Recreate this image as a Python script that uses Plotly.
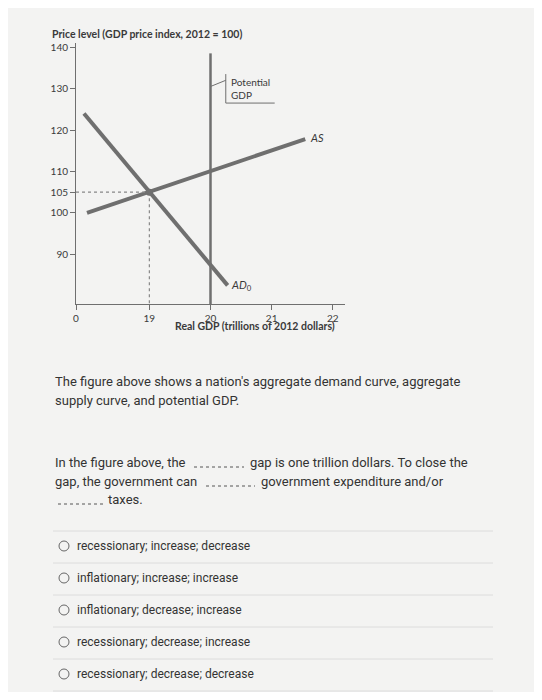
import plotly.graph_objects as go

# curves
as_x = [17.98, 21.55]
as_y = [100, 117.8]
ad_x = [17.93, 20.28]
ad_y = [124, 82.5]
pot_x = [20, 20]
pot_y = [78, 138.5]
eq_x, eq_y = 19, 105

y_ticks = [90, 100, 105, 110, 120, 130, 140]
x_ticks = [17.8, 19, 20, 21, 22]
x_tick_labels = ["0", "19", "20", "21", "22"]

options = [
    "recessionary; increase; decrease",
    "inflationary; increase; increase",
    "inflationary; decrease; increase",
    "recessionary; decrease; increase",
    "recessionary; decrease; decrease",
]

W, H = 542, 700
L, R, T, B = 68, 337, 35, 296
LINE = "#6f6f6f"
TXT = "#3a3a3a"
BODY_FONT = "Roboto"


def px(x):
    return (x - L) / (R - L)


def py(y):
    return (B - y) / (B - T)


fig = go.Figure()
fig.add_trace(go.Scatter(x=as_x, y=as_y, mode="lines", line=dict(color=LINE, width=4)))
fig.add_trace(go.Scatter(x=ad_x, y=ad_y, mode="lines", line=dict(color=LINE, width=4)))
fig.add_trace(go.Scatter(x=pot_x, y=pot_y, mode="lines", line=dict(color=LINE, width=2.5)))
fig.add_trace(go.Scatter(x=[17.8, eq_x], y=[eq_y, eq_y], mode="lines",
                         line=dict(color="#888", width=1.2, dash="dot")))
fig.add_trace(go.Scatter(x=[eq_x, eq_x], y=[eq_y, 78], mode="lines",
                         line=dict(color="#888", width=1.2, dash="dot")))
fig.add_trace(go.Scatter(x=[eq_x], y=[eq_y], mode="markers",
                         marker=dict(color=LINE, size=7)))

# potential GDP label bracket
fig.add_shape(type="line", x0=20, y0=130.5, x1=20.25, y1=132, line=dict(color=LINE, width=1))
fig.add_shape(type="line", x0=20.25, y0=133.5, x1=20.25, y1=126.5, line=dict(color=LINE, width=1))
fig.add_shape(type="line", x0=20.25, y0=126.5, x1=21.05, y1=126.5, line=dict(color=LINE, width=1))

chart_font = dict(family="Lato", color=TXT)
ann = [
    dict(x=20.3, y=130, text="Potential<br>GDP", xanchor="left", yanchor="middle",
         align="left", font=dict(size=10, **chart_font)),
    dict(x=21.6, y=118.3, text="<i>AS</i>", xanchor="left", font=dict(size=11, **chart_font)),
    dict(x=20.3, y=82.5, text="<i>AD</i><sub>0</sub>", xanchor="left", font=dict(size=11, **chart_font)),
    dict(x=px(42), y=py(18), text="<b>Price level (GDP price index, 2012 = 100)</b>",
         xref="paper", yref="paper", xanchor="left", font=dict(size=10.5, **chart_font)),
    dict(x=px(247), y=py(310), text="<b>Real GDP (trillions of 2012 dollars)</b>",
         xref="paper", yref="paper", xanchor="center", yanchor="top",
         font=dict(size=10.5, **chart_font)),
]


def body(x, y, text):
    ann.append(dict(x=px(x), y=py(y), text=text, xref="paper", yref="paper",
                    xanchor="left", yanchor="middle", showarrow=False,
                    font=dict(family=BODY_FONT, size=13, color="#333")))


def blank(x0, x1, y):
    fig.add_shape(type="line", xref="paper", yref="paper", x0=px(x0), x1=px(x1),
                  y0=py(y + 5), y1=py(y + 5), line=dict(color="#555", width=1, dash="dot"))


body(45, 373, "The figure above shows a nation's aggregate demand curve, aggregate")
body(45, 392, "supply curve, and potential GDP.")
body(45, 454, "In the figure above, the")
blank(186, 236, 454)
body(240, 454, "gap is one trillion dollars. To close the")
body(45, 473, "gap, the government can")
blank(198, 247, 473)
body(251, 473, "government expenditure and/or")
blank(50, 95, 491)
body(98, 491, "taxes.")

for i, opt in enumerate(options):
    yy = 538 + 32 * i
    fig.add_shape(type="circle", xref="paper", yref="paper",
                  x0=px(51), x1=px(61), y0=py(yy - 5), y1=py(yy + 5),
                  line=dict(color="#666", width=1))
    ann.append(dict(x=px(67), y=py(yy), text=opt, xref="paper", yref="paper",
                    xanchor="left", yanchor="middle", showarrow=False,
                    font=dict(family=BODY_FONT, size=12, color="#333")))
for yy in [523, 555, 587, 619, 651, 683]:
    fig.add_shape(type="line", xref="paper", yref="paper", x0=px(45), x1=px(485),
                  y0=py(yy), y1=py(yy), line=dict(color="#dcdcdc", width=1))

for a in ann:
    a.setdefault("showarrow", False)

fig.update_layout(
    width=W - 16, height=H - 16,
    margin=dict(l=L, r=W - 16 - R, t=T, b=H - 16 - B),
    paper_bgcolor="#f3f3f2", plot_bgcolor="#f3f3f2",
    showlegend=False, annotations=ann,
)
fig.update_xaxes(range=[17.8, 22.2], tickvals=x_ticks, ticktext=x_tick_labels,
                 showgrid=False, zeroline=False, showline=True, linecolor=LINE,
                 ticks="outside", ticklen=5, tickcolor=LINE,
                 tickfont=dict(family="Lato", size=10, color=TXT))
fig.update_yaxes(range=[78, 141], tickvals=y_ticks, showgrid=False, zeroline=False,
                 showline=True, linecolor=LINE, ticks="outside", ticklen=5,
                 tickcolor=LINE, tickfont=dict(family="Lato", size=10, color=TXT))

fig.write_html("out.html")
